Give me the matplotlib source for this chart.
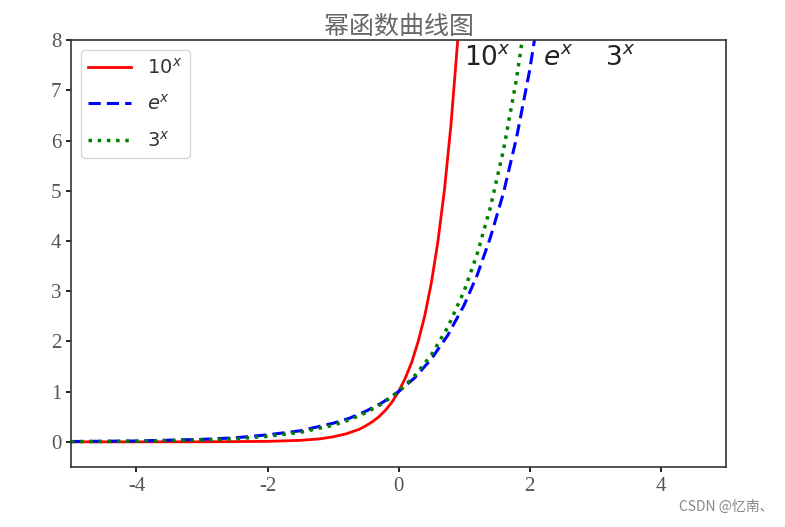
import matplotlib
matplotlib.use("Agg")
import matplotlib.pyplot as plt

plt.rcParams["font.family"] = ["Liberation Serif", "Noto Sans CJK SC", "DejaVu Sans"]
plt.rcParams["axes.unicode_minus"] = False

# values
x_10 = [-5, -4, -3, -2, -1.5, -1.2, -1.0, -0.8, -0.6, -0.5, -0.4, -0.3, -0.2, -0.1, 0,
        0.1, 0.2, 0.3, 0.4, 0.5, 0.6, 0.7, 0.8, 0.9, 1.0]
y_10 = [0.0, 0.0001, 0.001, 0.01, 0.03, 0.06, 0.10, 0.16, 0.25, 0.32, 0.40, 0.50, 0.63, 0.79, 1.0,
        1.26, 1.58, 2.0, 2.51, 3.16, 3.98, 5.01, 6.31, 7.94, 10.0]

x_e3 = [-5, -4, -3, -2.5, -2, -1.5, -1, -0.75, -0.5, -0.25, 0,
        0.25, 0.5, 0.75, 1, 1.2, 1.4, 1.6, 1.8, 2.0, 2.2]
y_e = [0.007, 0.018, 0.05, 0.08, 0.14, 0.22, 0.37, 0.47, 0.61, 0.78, 1.0,
       1.28, 1.65, 2.12, 2.72, 3.32, 4.06, 4.95, 6.05, 7.39, 9.03]
y_3 = [0.004, 0.012, 0.037, 0.06, 0.11, 0.19, 0.33, 0.44, 0.58, 0.76, 1.0,
       1.32, 1.73, 2.28, 3.0, 3.74, 4.66, 5.80, 7.22, 9.0, 11.2]

labels = ["$10^x$", "$e^x$", "$3^x$"]
label_x = [1, 2.2, 3.15]
label_y = 7.5
x_ticks = [-4, -2, 0, 2, 4]
y_ticks = [0, 1, 2, 3, 4, 5, 6, 7, 8]

fig = plt.figure(figsize=(7.85, 5.27), dpi=100)
ax = fig.add_axes([0.0904, 0.1139, 0.8346, 0.8101])

ax.plot(x_10, y_10, color="red", lw=2, label=labels[0])
ax.plot(x_e3, y_e, color="blue", lw=2.2, ls=(0, (4, 2)), label=labels[1])
ax.plot(x_e3, y_3, color="green", lw=2.5, ls=":", label=labels[2])

for lx, lab in zip(label_x, labels):
    ax.text(lx, label_y, lab, fontsize=19, family="DejaVu Sans", color="#222222")

ax.set_xlim(-5, 5)
ax.set_ylim(-0.5, 8)
ax.set_xticks(x_ticks)
ax.set_yticks(y_ticks)
ax.tick_params(labelsize=15, labelcolor="#555555", width=1.2)
for s in ax.spines.values():
    s.set_color("#333333")
    s.set_linewidth(1.2)

ax.set_title("幂函数曲线图", fontsize=18, color="#666666",
             family=["Noto Sans CJK SC", "DejaVu Sans"], pad=4)
leg = ax.legend(loc="upper left", handlelength=2.2, labelspacing=0.85,
                prop={"family": "DejaVu Sans", "size": 14})
for t in leg.get_texts():
    t.set_color("#333333")

fig.text(0.865, 0.03, "CSDN @忆南、", fontsize=10, color="#888888",
         family=["Noto Sans CJK SC", "DejaVu Sans"])

fig.savefig("out.png", dpi=100)
